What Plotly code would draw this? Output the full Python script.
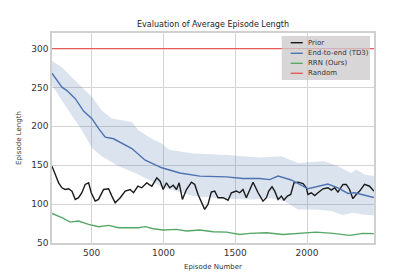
import plotly.graph_objects as go

# Prior (black)
prior_x = [224, 247, 270, 293, 316, 339, 363, 386, 409, 432, 455, 479, 497, 525, 548, 583, 618, 641, 664, 699,
           734, 768, 792, 822, 849, 884, 919, 954, 977, 998, 1021, 1044, 1068, 1091, 1109, 1132, 1160, 1195, 1218,
           1241, 1264, 1287, 1310, 1333, 1357, 1380, 1415, 1450, 1473, 1508, 1531, 1554, 1577, 1601, 1624, 1659,
           1693, 1717, 1733, 1756, 1775, 1798, 1821, 1839, 1863, 1886, 1909, 1937, 1972, 1995, 2006, 2030, 2053,
           2076, 2111, 2145, 2169, 2192, 2215, 2250, 2273, 2296, 2319, 2342, 2366, 2400, 2435, 2465]
prior_y = [148.7, 138, 127.4, 121, 118.8, 119.7, 116.7, 106, 108.2, 114.6, 125.3, 127.4, 114.6, 103.8, 106, 118.8,
           119.7, 110.3, 101.8, 108.2, 116.7, 118.8, 114.6, 123, 121, 127.4, 123, 133.8, 129.5, 118.8, 127.4, 121,
           124.2, 118.8, 127.4, 106, 118.8, 128.2, 125.3, 112.4, 101.8, 93.2, 99.6, 115.4, 116.7, 108.2, 108.2, 105,
           114.6, 116.7, 114.6, 118.8, 108.2, 118.8, 128.2, 114.6, 103.8, 108.2, 116.7, 122.3, 116.7, 106, 110.3,
           105.2, 110.3, 112.4, 127.4, 128.2, 126.5, 121, 112.4, 114.6, 111, 114.6, 119.7, 121, 118, 121, 115.4,
           125.3, 125.3, 118.8, 107, 112.4, 116.7, 125.3, 123, 116.7]

# End-to-end (TD3) mean (blue)
td3_x = [224, 293, 328, 386, 444, 502, 549, 595, 653, 711, 780, 873, 988, 1114, 1253, 1438, 1554, 1670, 1740,
         1798, 1890, 2006, 2076, 2145, 2215, 2285, 2331, 2377, 2447, 2465]
td3_y = [268.3, 250.4, 246, 235.5, 219.6, 209.8, 197, 186, 184, 178.6, 171.4, 156.4, 146.7, 140, 136, 135, 133,
         133, 131.5, 136, 131, 119.7, 123, 125.8, 120.8, 113.7, 114.6, 112.4, 109.5, 108.5]

# TD3 band upper / lower
band_up_x = [224, 293, 362, 432, 502, 571, 640, 780, 826, 919, 988, 1040, 1207, 1438, 1670, 1821, 1937, 2122,
             2215, 2308, 2342, 2400, 2465]
band_up_y = [284, 276, 263, 250, 237.6, 220.5, 210, 205.5, 195, 184, 178, 170, 165, 163, 160, 161.5, 153, 155,
             148.7, 140, 144.5, 138, 136]
band_lo_x = [224, 293, 362, 432, 479, 502, 571, 687, 803, 919, 988, 1207, 1438, 1624, 1740, 1844, 1937, 2053,
             2169, 2250, 2320, 2389, 2465]
band_lo_y = [252.6, 233, 214, 195, 180, 172, 161.5, 148.7, 140, 129.5, 122, 110.3, 107, 106, 108, 103.8, 93.2,
             93.2, 91, 86, 89, 86.7, 85.5]

# RRN (Ours) (green)
rrn_x = [224, 293, 351, 409, 479, 548, 618, 687, 826, 873, 929, 998, 1091, 1161, 1253, 1346, 1439, 1532, 1601,
         1717, 1833, 1949, 2065, 2181, 2297, 2389, 2465]
rrn_y = [88, 82.6, 76.9, 78.2, 74, 71, 72.7, 69.7, 69.7, 71, 68.4, 66.7, 67.5, 65.4, 66.7, 64.5, 64, 61, 62.4,
         63.2, 61, 62.4, 64, 62.4, 59.8, 62.4, 62]

random_level = 300
x_range = [224, 2466]
y_range = [50, 320]
x_ticks = [500, 1000, 1500, 2000]
y_ticks = [50, 100, 150, 200, 250, 300]

series_names = ["Prior", "End-to-end (TD3)", "RRN (Ours)", "Random"]
series_colors = ["#1a1a1a", "#4c72b0", "#55a868", "#e8595a"]

fig = go.Figure()

fig.add_trace(go.Scatter(x=band_up_x + band_lo_x[::-1], y=band_up_y + band_lo_y[::-1], fill="toself",
                         fillcolor="rgba(76,114,176,0.2)", line=dict(width=0), hoverinfo="skip", showlegend=False))
fig.add_trace(go.Scatter(x=prior_x, y=prior_y, mode="lines", name=series_names[0],
                         line=dict(color=series_colors[0], width=1.4), showlegend=False))
fig.add_trace(go.Scatter(x=td3_x, y=td3_y, mode="lines", name=series_names[1],
                         line=dict(color=series_colors[1], width=1.4), showlegend=False))
fig.add_trace(go.Scatter(x=rrn_x, y=rrn_y, mode="lines", name=series_names[2],
                         line=dict(color=series_colors[2], width=1.4), showlegend=False))
fig.add_trace(go.Scatter(x=x_range, y=[random_level, random_level], mode="lines", name=series_names[3],
                         line=dict(color=series_colors[3], width=1.2), showlegend=False))

# custom compact legend (matplotlib-like)
shapes = [dict(type="rect", xref="paper", yref="paper", x0=0.7134, x1=0.9876, y0=0.776, y1=0.9857,
               fillcolor="rgba(205,202,202,0.78)", line=dict(width=0), layer="above")]
annotations = []
leg_y = [0.9538, 0.9033, 0.8557, 0.8081]
for name, color, yy in zip(series_names, series_colors, leg_y):
    shapes.append(dict(type="line", xref="paper", yref="paper", x0=0.7413, x1=0.7786, y0=yy, y1=yy,
                       line=dict(color=color, width=1.4), layer="above"))
    annotations.append(dict(text=name, xref="paper", yref="paper", x=0.7879, y=yy, xanchor="left",
                            yanchor="middle", showarrow=False,
                            font=dict(family="DejaVu Sans", size=7, color="#333333")))

# title and axis titles
annotations.append(dict(text="Evaluation of Average Episode Length", xref="paper", yref="paper", x=0.5,
                        y=1 + 8 / 210, xanchor="center", yanchor="middle", showarrow=False,
                        font=dict(family="DejaVu Sans", size=8, color="#222222")))
annotations.append(dict(text="Episode Number", xref="paper", yref="paper", x=0.5, y=-24 / 210,
                        xanchor="center", yanchor="middle", showarrow=False,
                        font=dict(family="DejaVu Sans", size=7, color="#333333")))
annotations.append(dict(text="Episode Length", xref="paper", yref="paper", x=-33 / 322, y=0.5, textangle=-90,
                        xanchor="center", yanchor="middle", showarrow=False,
                        font=dict(family="DejaVu Sans", size=7, color="#333333")))

axis_common = dict(showgrid=True, gridcolor="#d4d4d4", gridwidth=1, showline=True, linecolor="#d0d0d0",
                   linewidth=1.5, mirror=True, zeroline=False, ticks="", automargin=False,
                   tickfont=dict(family="DejaVu Sans", size=9, color="#333333"))

# the page body adds an 8px offset, so margins are shifted to compensate
fig.update_layout(
    width=416, height=274,
    margin=dict(l=44, r=50, t=25, b=39, autoexpand=False),
    paper_bgcolor="white", plot_bgcolor="white",
    xaxis=dict(range=x_range, tickvals=x_ticks, **axis_common),
    yaxis=dict(range=y_range, tickvals=y_ticks, **axis_common),
    shapes=shapes,
    annotations=annotations,
    showlegend=False,
)

fig.write_html("out.html")
